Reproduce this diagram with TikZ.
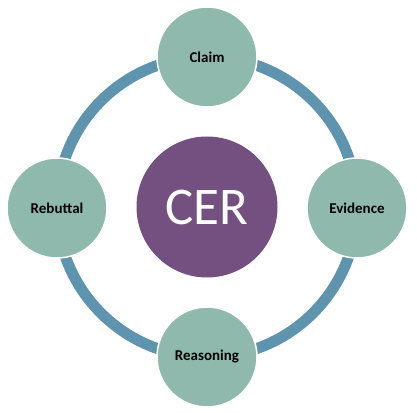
\documentclass[tikz,border=0pt]{standalone}
\usepackage{fontspec}
\setmainfont{Carlito}
\usepackage{tikz}
\usetikzlibrary{positioning, calc}
\definecolor{RingBlue}{RGB}{94,148,174}
\definecolor{NodeGreen}{RGB}{143,185,172}
\definecolor{CerPurple}{RGB}{116,80,128}

\begin{document}
\begin{tikzpicture}[x=1pt, y=1pt,
    part/.style={circle, fill=NodeGreen, draw=white, line width=1.5pt,
                 minimum size=100pt, inner sep=0pt, font=\bfseries\fontsize{15}{17}\selectfont},
    core/.style={circle, fill=CerPurple, minimum size=141pt, inner sep=0pt,
                 text=white, font=\fontsize{53}{60}\selectfont}]
    \useasboundingbox (0,0) rectangle (417,412);
    % ring behind the four parts
    \coordinate (mid) at (207,205);
    \draw[RingBlue, line width=11pt] (mid) circle (150);
    \node[core] (cer) at (mid) {CER};
    \node[part] (claim) at (207,355) {Claim};
    \node[part] (evidence) at (357,204) {Evidence};
    \node[part] (reasoning) at (207,55) {Reasoning};
    \node[part] (rebuttal) at (57,204) {Rebuttal};
  \end{tikzpicture}
\end{document}
